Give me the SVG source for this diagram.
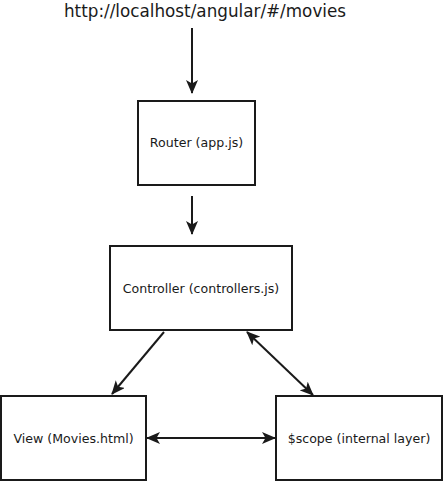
<svg xmlns="http://www.w3.org/2000/svg" width="444" height="481" viewBox="0 0 444 481">
<style>
.box{fill:#fff;stroke:#1a1a1a;stroke-width:2}
.lbl{font-family:"DejaVu Sans",sans-serif;font-size:12.6px;fill:#1a1a1a;text-anchor:middle}
.url{font-family:"DejaVu Sans",sans-serif;font-size:16.8px;fill:#1a1a1a;text-anchor:middle}
.edge{fill:none;stroke:#1a1a1a;stroke-width:2}
</style>
<defs>
<marker id="ah" viewBox="0 0 14 12" refX="13" refY="6" markerWidth="14" markerHeight="12" markerUnits="userSpaceOnUse" orient="auto-start-reverse">
<path d="M0,0 L14,6 L0,12 L3.5,6 Z" fill="#1a1a1a"/>
</marker>
</defs>
<rect width="444" height="481" fill="#fff"/>
<g id="url"><text class="url" x="205" y="17">http://localhost/angular/#/movies</text></g>
<g id="router"><rect class="box" x="138" y="101" width="117" height="84"/><text class="lbl" x="196.5" y="147">Router (app.js)</text></g>
<g id="controller"><rect class="box" x="110" y="246" width="182" height="84"/><text class="lbl" x="201" y="293">Controller (controllers.js)</text></g>
<g id="view"><rect class="box" x="1" y="396" width="145" height="84"/><text class="lbl" x="73.5" y="443">View (Movies.html)</text></g>
<g id="scope"><rect class="box" x="276" y="396" width="166" height="84"/><text class="lbl" x="359" y="443">$scope (internal layer)</text></g>
<g id="connectors">
<line class="edge" x1="192" y1="28" x2="192" y2="93" marker-end="url(#ah)"/>
<line class="edge" x1="192" y1="196" x2="192" y2="234" marker-end="url(#ah)"/>
<line class="edge" x1="164" y1="332" x2="112" y2="394" marker-end="url(#ah)"/>
<line class="edge" x1="247" y1="332" x2="313" y2="395" marker-start="url(#ah)" marker-end="url(#ah)"/>
<line class="edge" x1="147" y1="438" x2="275" y2="438" marker-start="url(#ah)" marker-end="url(#ah)"/>
</g>
</svg>
